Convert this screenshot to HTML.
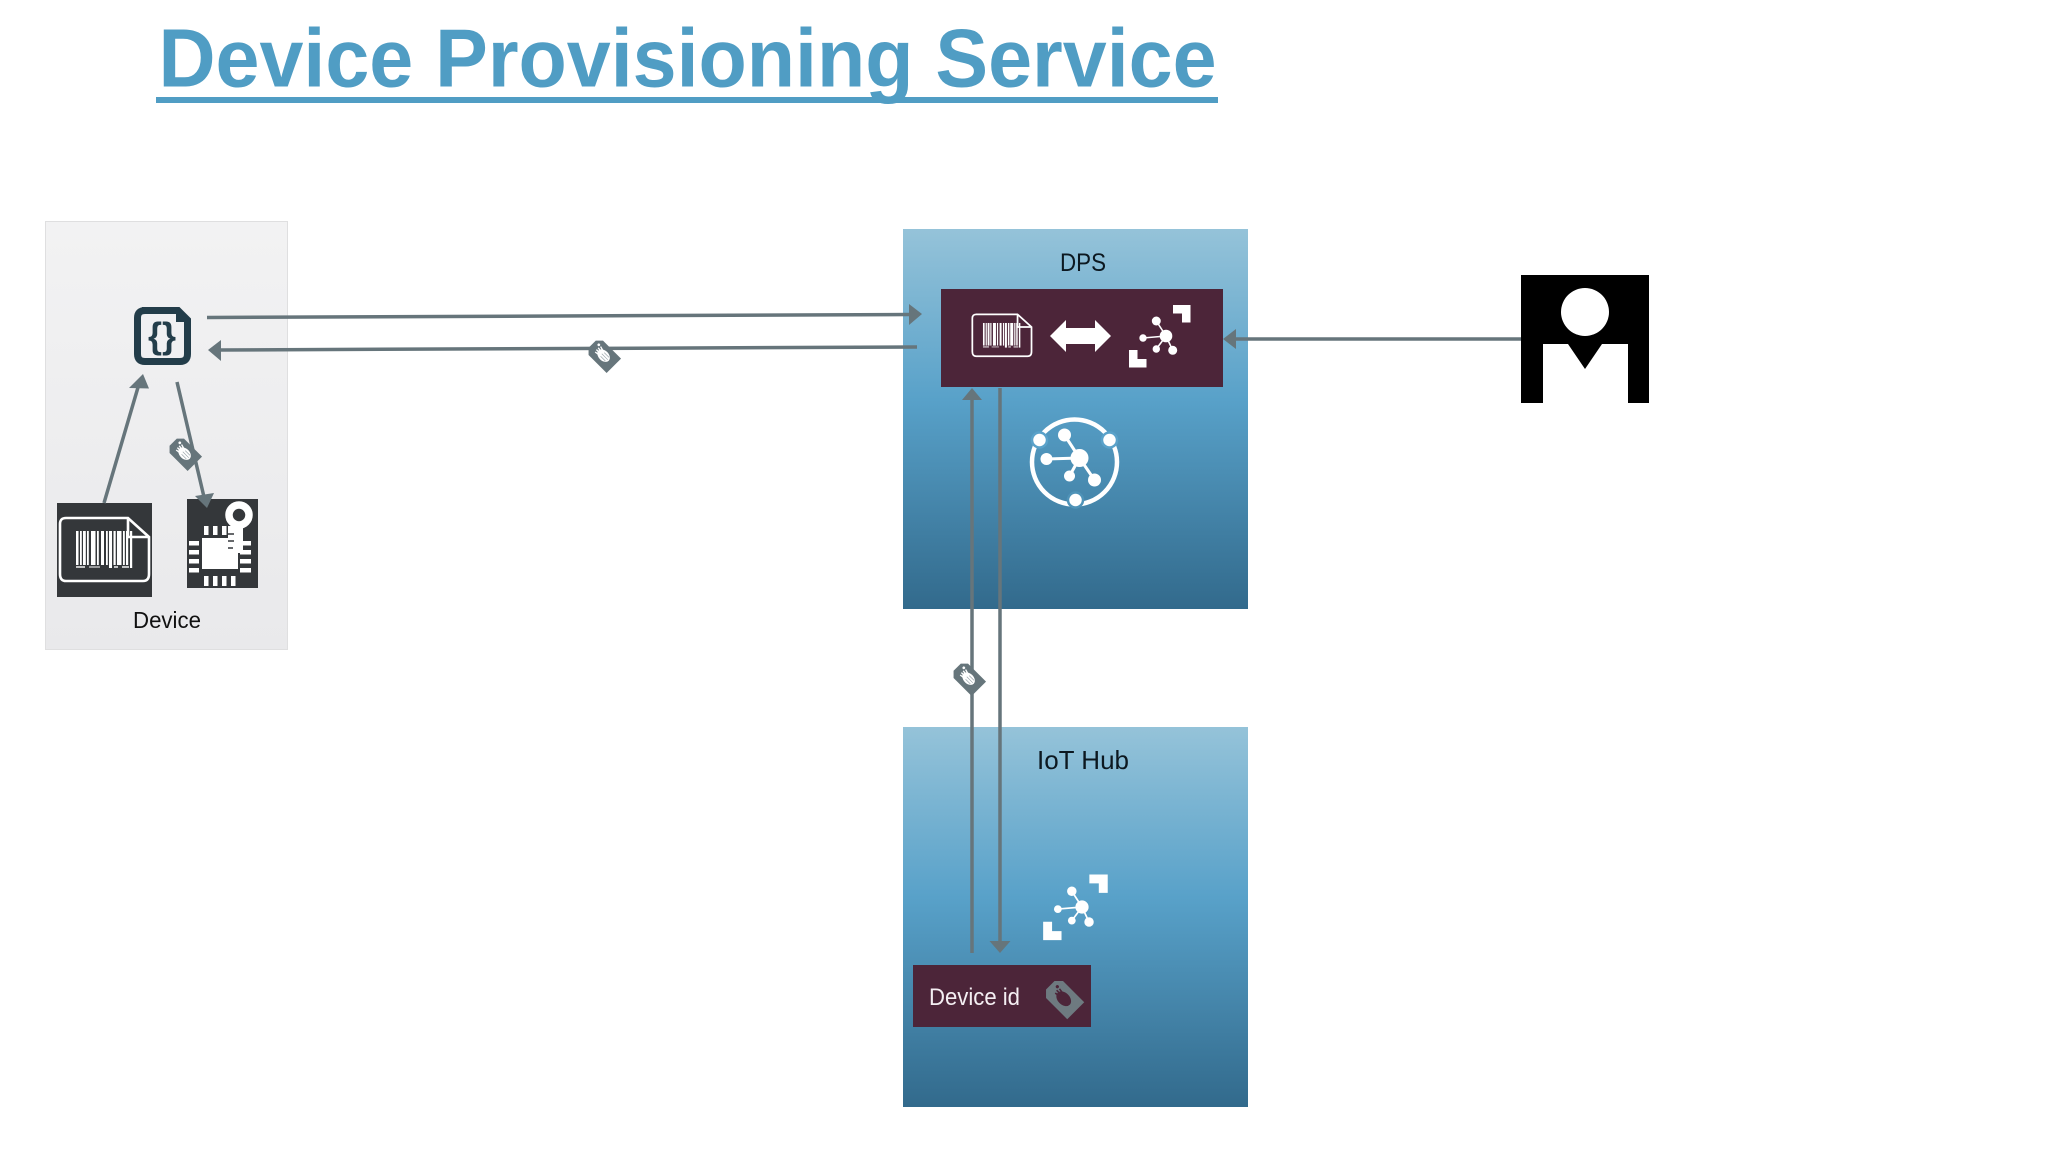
<!DOCTYPE html>
<html lang="en"><head><meta charset="utf-8"><title>Device Provisioning Service</title>
<style>html,body{margin:0;padding:0;background:#fff;width:2048px;height:1152px;overflow:hidden}svg{display:block}text{font-family:"Liberation Sans",sans-serif}</style>
</head><body>
<svg xmlns="http://www.w3.org/2000/svg" width="2048" height="1152" viewBox="0 0 2048 1152">
<defs>
<linearGradient id="blue" x1="0" y1="0" x2="0" y2="1">
<stop offset="0" stop-color="#95c3d9"/><stop offset=".45" stop-color="#58a1c9"/><stop offset="1" stop-color="#326a8c"/>
</linearGradient>
<linearGradient id="grey" x1="0" y1="0" x2="0" y2="1">
<stop offset="0" stop-color="#f2f2f3"/><stop offset="1" stop-color="#e9e9eb"/>
</linearGradient>
<g id="tag">
<path d="M-18,-6 L-12,-12 L18,-12 L18,12 L-12,12 L-18,6 Z" fill="#66757b"/>
<circle cx="-12" cy="-5" r="1.600" fill="#fff"/>
<ellipse cx="1" cy="0" rx="8.500" ry="6" fill="#fff"/>
<path d="M-9,-5 L-2,-3 M-10,-2 L-2,-1 M-10,1 L-2,1 M-9,4 L-2,3" stroke="#fff" stroke-width="1.600"/>
<path d="M-1,-3 L7,-3 M-2,0 L8,0 M-1,3 L7,3" stroke="#9aa5aa" stroke-width=".8"/>
</g>
<g id="hub" fill="#fff">
<path d="M0,0 L-9.7,-15 M0,0 L-23,2 M0,0 L-9.7,13 M0,0 L6.7,14.3" stroke="#fff" stroke-width="1.600" fill="none"/>
<circle r="6.300"/><circle cx="-9.700" cy="-15" r="4.500"/><circle cx="-23" cy="2" r="3.700"/><circle cx="-9.700" cy="13" r="3.700"/><circle cx="6.700" cy="14.300" r="4.500"/>
<path d="M7,-31 H24.500 V-13.500 H16 V-22.500 H7 Z"/>
<path d="M-37,14 H-28.500 V23 H-19.500 V31.500 H-37 Z"/>
</g>
<g id="card">
<path d="M8,2 H70 L91,21 V58 Q91,65 85,65 H8 Q2,65 2,58 V8 Q2,2 8,2 Z" fill="none" stroke="#fff" stroke-width="2.600"/>
<path d="M70,2 V21 H91" fill="none" stroke="#fff" stroke-width="2.600"/>
<g fill="#fff">
<rect x="18" y="15" width="2.500" height="34"/><rect x="22" y="15" width="1.800" height="34"/><rect x="25" y="15" width="2.800" height="34"/><rect x="29" y="15" width="1.800" height="34"/><rect x="33" y="15" width="4.500" height="34"/><rect x="39" y="15" width="1.800" height="34"/><rect x="43" y="15" width="3" height="34"/><rect x="48" y="15" width="1.800" height="34"/><rect x="51" y="15" width="3" height="37"/><rect x="55.500" y="15" width="2.200" height="34"/><rect x="59" y="15" width="4.500" height="34"/><rect x="65" y="15" width="1.800" height="34"/><rect x="68" y="15" width="2.200" height="34"/><rect x="72" y="15" width="2.200" height="37"/>
<rect x="18" y="50" width="9" height="2" opacity=".7"/><rect x="31" y="50" width="11" height="2" opacity=".5"/><rect x="56" y="50" width="4" height="2" opacity=".7"/><rect x="64" y="50" width="7" height="2" opacity=".7"/>
</g>
</g>
</defs>

<!-- Title -->
<text x="158.500" y="86.500" font-size="83" font-weight="700" fill="#509dc4" textLength="1058" lengthAdjust="spacingAndGlyphs">Device Provisioning Service</text>
<rect x="156" y="97" width="1062" height="6" fill="#509dc4"/>

<!-- Device panel -->
<rect x="45.500" y="221.500" width="242" height="428" fill="url(#grey)" stroke="#dfdfe0" stroke-width="1"/>
<path d="M142,310.500 H178 L187.500,320 V354 Q187.500,361.500 180,361.500 H145 Q137.500,361.500 137.500,354 V318 Q137.500,310.500 145,310.500 Z" fill="#f0f0f2" stroke="#233d4a" stroke-width="7"/>
<path d="M176,307 L191,322 H176 Z" fill="#233d4a"/>
<text x="162" y="348" font-size="36" font-weight="700" fill="#233d4a" text-anchor="middle">{}</text>
<text x="167" y="628" font-size="23" fill="#111" text-anchor="middle" textLength="68" lengthAdjust="spacingAndGlyphs">Device</text>

<rect x="57" y="503" width="95" height="94" fill="#34373a"/>
<use href="#card" transform="translate(58,516)"/>

<rect x="187" y="499" width="71" height="89" fill="#34373a"/>
<g fill="#fff">
<rect x="202" y="538" width="36" height="31"/>
<rect x="204" y="526" width="4.500" height="9"/><rect x="213" y="526" width="4.500" height="9"/><rect x="222" y="526" width="4.500" height="9"/><rect x="204" y="576" width="4.500" height="10"/><rect x="213" y="576" width="4.500" height="10"/><rect x="222" y="576" width="4.500" height="10"/><rect x="231" y="576" width="4.500" height="10"/>
<rect x="189" y="541" width="10" height="4.500"/><rect x="189" y="550" width="10" height="4.500"/><rect x="189" y="559" width="10" height="4.500"/><rect x="189" y="568" width="10" height="4.500"/>
<rect x="240" y="541" width="11" height="4.500"/><rect x="240" y="550" width="11" height="4.500"/><rect x="240" y="559" width="11" height="4.500"/><rect x="240" y="568" width="11" height="4.500"/>
<rect x="228" y="526" width="15" height="27"/>
</g>
<path d="M228,534 H234 M228,541 H234 M228,548 H233" stroke="#34373a" stroke-width="1.500"/>
<circle cx="239" cy="515" r="10" fill="#34373a" stroke="#fff" stroke-width="7.500"/>

<!-- DPS -->
<rect x="903" y="229" width="345" height="380" fill="url(#blue)"/>
<text x="1083" y="271" font-size="25" fill="#0c1820" text-anchor="middle" textLength="46" lengthAdjust="spacingAndGlyphs">DPS</text>
<rect x="941" y="289" width="282" height="98" fill="#4c2539"/>
<use href="#card" transform="translate(971,313) scale(.665)"/>
<path d="M1050,336 L1066,320 V328 H1095 V320 L1111,336 L1095,352 V344 H1066 V352 Z" fill="#fff"/>
<use href="#hub" transform="translate(1166,336)"/>

<g transform="translate(1074.500,462)">
<circle r="42.500" fill="none" stroke="#fff" stroke-width="4.500"/>
<path d="M5,-4 L-10,-27 M5,-4 L-28,-3 M5,-4 L-5,14 M5,-4 L20,18" stroke="#fff" stroke-width="3" fill="none"/>
<g fill="#fff"><circle cx="5" cy="-4" r="9"/><circle cx="-10" cy="-27" r="6.500"/><circle cx="-28" cy="-3" r="6"/><circle cx="-5" cy="14" r="5.500"/><circle cx="20" cy="18" r="6.500"/></g>
<g fill="#fff"><circle cx="-35" cy="-22" r="7.500" stroke="#5aa2ca" stroke-width="2.500"/><circle cx="35" cy="-22" r="7.500" stroke="#5aa2ca" stroke-width="2.500"/><circle cx="1" cy="38" r="7.500" stroke="#4f93b8" stroke-width="2.500"/></g>
</g>

<!-- IoT Hub -->
<rect x="903" y="727" width="345" height="380" fill="url(#blue)"/>
<text x="1083" y="769" font-size="26" fill="#0c1820" text-anchor="middle" textLength="92" lengthAdjust="spacingAndGlyphs">IoT Hub</text>
<use href="#hub" transform="translate(1082,907) scale(1.05)"/>
<rect x="913" y="965" width="178" height="62" fill="#4c2539"/>
<text x="929" y="1005" font-size="24" fill="#f4eef2" textLength="91" lengthAdjust="spacingAndGlyphs">Device id</text>
<g transform="translate(1063,998) rotate(45)">
<path d="M-18,-6 L-12,-12 L18,-12 L18,12 L-12,12 L-18,6 Z" fill="#6e7a80"/>
<circle cx="-12" cy="-4" r="1.600" fill="#4c2539"/>
<ellipse cx="1" cy="0" rx="8.500" ry="6" fill="#4c2539"/>
<path d="M-9,-4 L-2,-3 M-10,-1 L-2,-1 M-9,2 L-2,1" stroke="#4c2539" stroke-width="1.600"/>
</g>

<!-- Connectors -->
<g stroke="#66757b" stroke-width="3.500" fill="none">
<path d="M207,317.500 L910,314.500"/>
<path d="M220,350 L917,347"/>
<path d="M104,503 L139,384"/>
<path d="M177,382 L204,497"/>
<path d="M972,953 V400"/>
<path d="M1000,388 V941"/>
<path d="M1236,339 H1521"/>
</g>
<g fill="#66757b">
<path d="M922,314 L909,304 V325 Z"/>
<path d="M208,350 L221,340 V361 Z"/>
<path d="M143,374 L129,388 L149,388.500 Z"/>
<path d="M207,508 L195,496 L214,493 Z"/>
<path d="M972,388 L962,400 H982 Z"/>
<path d="M1000,953 L989.500,941 H1010.500 Z"/>
<path d="M1223,339 L1236,329 V349 Z"/>
</g>

<!-- Person -->
<rect x="1521" y="275" width="128" height="128" fill="#000"/>
<circle cx="1585" cy="312" r="24" fill="#fff"/>
<path d="M1543,344 H1568 L1585,369 L1602,344 H1628 V403 H1543 Z" fill="#fff"/>

<use href="#tag" transform="translate(603,355) rotate(45) scale(.85)"/>
<use href="#tag" transform="translate(184,453) rotate(45) scale(.85)"/>
<use href="#tag" transform="translate(968,678) rotate(45) scale(.85)"/>
</svg>
</body></html>
